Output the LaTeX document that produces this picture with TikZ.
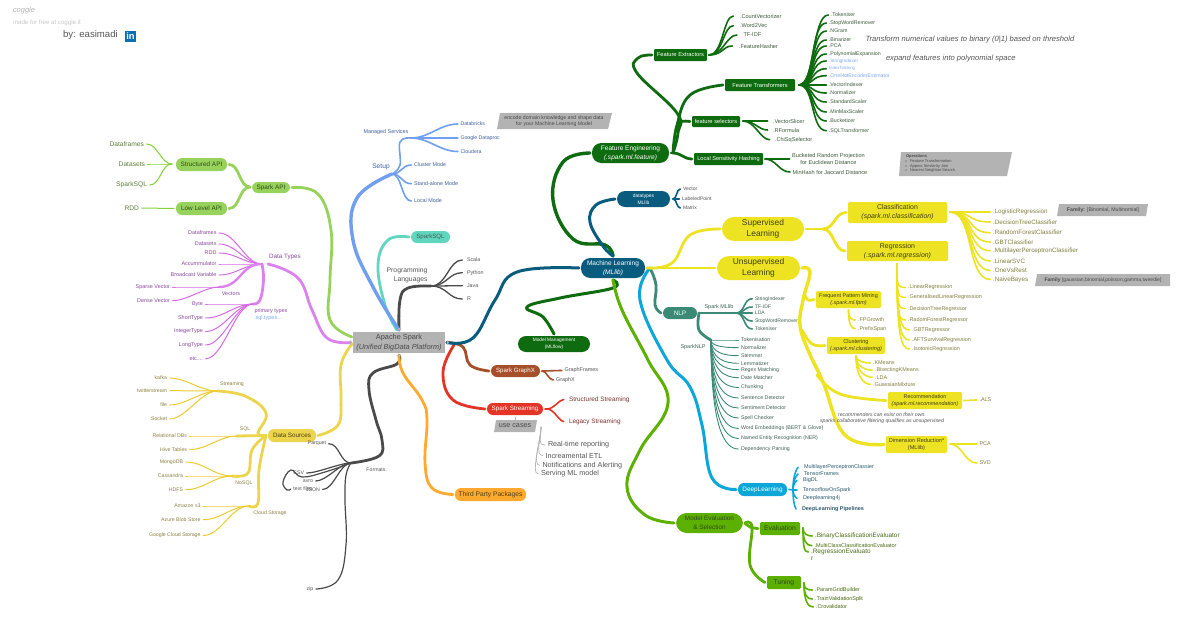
\documentclass[tikz,border=0pt]{standalone}
\usepackage{fontspec}
\setmainfont{Liberation Sans}
\pgfdeclarelayer{bg}\pgfsetlayers{bg,main}
\definecolor{gnB}{HTML}{97D35C}\definecolor{gnL}{HTML}{82D235}\definecolor{gnT}{HTML}{5F7F3D}\definecolor{gnD}{HTML}{2F4A1B}
\definecolor{mgB}{HTML}{DC82EC}\definecolor{mgL}{HTML}{D66AE8}\definecolor{mgT}{HTML}{8B4A9E}
\definecolor{ylB}{HTML}{ECD44C}\definecolor{ylL}{HTML}{EECB2C}\definecolor{ylT}{HTML}{8D8143}\definecolor{ylD}{HTML}{4B4016}
\definecolor{dk}{HTML}{4A4A4A}\definecolor{dkT}{HTML}{555555}
\definecolor{stB}{HTML}{6F9FEE}\definecolor{stT}{HTML}{3F5F9F}
\definecolor{sq}{HTML}{60D6BF}\definecolor{gy}{HTML}{B3B3B3}
\definecolor{or}{HTML}{FFA92E}\definecolor{rd}{HTML}{E33425}\definecolor{rdT}{HTML}{7A3030}\definecolor{br}{HTML}{A5502A}
\definecolor{ml}{HTML}{0A5C7F}\definecolor{fe}{HTML}{0F6B0F}\definecolor{feT}{HTML}{3A5A3A}
\definecolor{me}{HTML}{5CB000}\definecolor{meT}{HTML}{4A6A10}\definecolor{dl}{HTML}{0CA6D8}\definecolor{dlT}{HTML}{2A5A70}
\definecolor{nl}{HTML}{3B8A75}\definecolor{nlT}{HTML}{3F5F55}
\definecolor{su}{HTML}{EDE322}\definecolor{suT}{HTML}{7F7F3F}\definecolor{suD}{HTML}{3F3F10}
\definecolor{lb}{HTML}{7FA8F0}\definecolor{li}{HTML}{0A70B0}
\tikzset{
 fs/.style={font=\fontsize{#1}{#1}\selectfont},
 tx/.style={inner sep=0.4pt,outer sep=1.6pt,align=center},
 bxs/.style={inner sep=0pt,outer sep=1.5pt,align=center},
 ln/.style={line cap=round,line join=round,line width=#1*0.75pt},
 lt/.style={ln=1},
 lm/.style={ln=1.6},
 lw/.style={ln=2.8},
 lh/.style={ln=3.4},
 tow/.style={anchor=west,xshift=-2pt},
 toe/.style={anchor=east,xshift=2pt},
}
\newcommand\hc[4][]{\begin{pgfonlayer}{bg}\draw[#1] (#2) .. controls +(#4,0) and +(-#4,0) .. (#3);\end{pgfonlayer}}
\newcommand\vh[5][]{\begin{pgfonlayer}{bg}\draw[#1] (#2) .. controls +(0,#4) and +(-#5,0) .. (#3);\end{pgfonlayer}}
\newcommand\sm[2][]{\begin{pgfonlayer}{bg}\draw[#1] plot[smooth,tension=.7] coordinates {#2};\end{pgfonlayer}}
\newcommand\bx[7]{\node[bxs,#1,minimum width={(#5-(#3))*0.75pt},minimum height={(#6-(#4))*0.75pt}] (#2) at ({(#3+#5)/2},{(#4+#6)/2}) {#7};}
\newcommand\leafR[5]{\foreach \nm/\xx/\yy/\lab in {#5}{\node[tx,#1,tow] (\nm) at (\xx,\yy) {\lab};\hc[#2]{#3}{\nm.west}{#4}}}
\newcommand\leafL[5]{\foreach \nm/\xx/\yy/\lab in {#5}{\node[tx,#1,toe] (\nm) at (\xx,\yy) {\lab};\hc[#2]{\nm.east}{#3}{#4}}}
\newcommand\leafV[6]{\foreach \nm/\xx/\yy/\lab in {#6}{\pgfmathsetmacro\dyy{(\yy-#4)*.8}\node[tx,#1,tow] (\nm) at (\xx,\yy) {\lab};\vh[#2]{#3}{\nm.west}{\dyy}{#5}}}
\begin{document}
\begin{tikzpicture}[x=0.75pt,y=-0.75pt]
\useasboundingbox (0,0) rectangle (1200,625);
% header
\node[tx,tow,text=gy,font=\itshape\fontsize{5.6}{6}\selectfont] (cg) at (13,11) {coggle};
\node[tx,tow,text=black!22,fs=4.6] (made) at (13,22.5) {made for free at coggle.it};
\node[tx,tow,text=dkT,fs=7.2] (by) at (63,35) {by: easimadi};
\node[bxs,fill=li,text=white,minimum width=8pt,minimum height=8pt,font=\bfseries\fontsize{7}{7}\selectfont] (lkd) at (130.5,36.5) {in};
% center
\bx{fill=gy,text=dk,fs=5.5}{apache}{353}{332}{445}{353}{Apache Spark\\[1.6pt]{\itshape(Unified BigData Platform)}}
\fill[gy] ([xshift=-2pt]apache.north) -- ([yshift=1.5pt]apache.north) -- ([xshift=2pt]apache.north) -- cycle;
\fill[gy] ([xshift=-2pt]apache.south) -- ([yshift=-1.5pt]apache.south) -- ([xshift=2pt]apache.south) -- cycle;
\fill[gy] ([yshift=-2pt]apache.west) -- ([xshift=-1.5pt]apache.west) -- ([yshift=2pt]apache.west) -- cycle;
\fill[gy] ([yshift=-2pt]apache.east) -- ([xshift=1.5pt]apache.east) -- ([yshift=2pt]apache.east) -- cycle;
% Spark API
\bx{fill=gnB,text=gnD,rounded corners=4.5pt,fs=4.8}{sapi}{252}{182}{290}{193}{Spark API}
\bx{fill=gnB,text=gnD,rounded corners=4.5pt,fs=4.8}{stru}{176}{158}{227}{171}{Structured API}
\bx{fill=gnB,text=gnD,rounded corners=4.5pt,fs=4.8}{lowl}{176}{202}{227}{215}{Low Level API}
\coordinate (hStru) at (172,164);
\leafL{fs=5,text=gnT}{lt,gnL}{hStru}{11}{gdf/144/144/Dataframes,gds/145/164/Datasets,gsq/147/185/SparkSQL}
\leafL{fs=5,text=gnT}{lt,gnL}{lowl.west}{5}{grd/139/208/RDD}
\coordinate (hApi) at (250,187);
\hc[lw,gnB]{stru.east}{hApi}{11}
\hc[lw,gnB]{lowl.east}{hApi}{11}
\begin{pgfonlayer}{bg}\draw[lw,gnB] (hApi) -- (sapi.west);\end{pgfonlayer}
\sm[lw,gnB]{(sapi.east) (318,194) (331,230) (330,280) (330,320) (352,337)}
% Data types
\node[tx,fs=4.7,text=mgT] (dt) at (285,257) {Data Types};
\coordinate (hDT) at (262,264);
\sm[lw,mgB]{(apache.west) (327,338) (312,310) (298,278) (268,264)}
\leafL{fs=4.1,text=mgT}{lt,mgL}{hDT}{17}{tdf/216.5/233/Dataframes,tds/216.5/244/Datasets,trd/216.5/253/RDD,tac/216.5/264/Accummulator,tbv/216.5/275/Broadcast Variable}
\node[tx,fs=4.1,text=mgT] (vec) at (231,294) {Vectors};
\node[tx,fs=4.1,text=mgT] (pri) at (271,311) {primary types};
\node[tx,fs=4.1,text=lb] (sqlt) at (268,318) {.sql.types...};
\coordinate (hVec) at (219,287);\coordinate (hPri) at (253,304);
\hc[ln=2.4,mgB]{hVec}{hDT}{22}
\sm[lw,mgB]{(hDT) (263.5,280) (260,300) (hPri)}
\leafL{fs=4.1,text=mgT}{lt,mgL}{hVec}{14}{tsv/170/287/Sparse Vector,tdv/170/300.7/Dense Vector}
\leafL{fs=4.1,text=mgT}{lt,mgL}{hPri}{18}{tby/203/304/Byte,tsh/203/318/ShortType,tin/203/331.5/IntegerType,tlo/203/345/LongType,tet/203/358.7/{etc....}}
% Data sources
\bx{fill=ylB,text=ylD,rounded corners=4.5pt,fs=4.7}{dsrc}{268}{429}{316}{442}{Data Sources}
\sm[lw,ylB]{(352,344) (341,365) (341,400) (338,425) (dsrc.east)}
\coordinate (hStr) at (217,391);\coordinate (hSql) at (237,436);\coordinate (hNo) at (232,476);\coordinate (hCl) at (249,506);
\sm[lw,ylB]{(hStr) (245,396) (266,413) (258,433) (dsrc.west)}
\begin{pgfonlayer}{bg}\draw[lw,ylB] (hSql) -- (dsrc.west);\end{pgfonlayer}
\sm[lw,ylB]{(hNo) (248,473) (252,450) (dsrc.west)}
\sm[lw,ylB]{(hCl) (258,503) (259,470) (dsrc.west)}
\leafL{fs=3.9,text=ylT}{lt,ylL}{hStr}{16}{ykf/167/378/kafka,ytw/167/390.7/twitterstream,yfi/167/405/file,yso/167/419/Socket}
\leafL{fs=3.9,text=ylT}{lt,ylL}{hSql}{18}{yrd/187/436/Relational DBs,yhv/187/449.5/Hive Tables}
\leafL{fs=3.9,text=ylT}{lt,ylL}{hNo}{18}{ymg/183/462/MongoDB,yca/183/476/Cassandra,yhd/183/489.7/HDFS}
\leafL{fs=3.9,text=ylT}{lt,ylL}{hCl}{18}{yam/200.5/506/Amazon s3,yaz/200.5/519.7/Azure Blob Store,ygc/200.5/535.5/Google Cloud Storage}
\node[tx,fs=3.9,text=ylT] (lStr) at (232,384.5) {Streaming};
\node[tx,fs=3.9,text=ylT] (lSql) at (245,429) {SQL};
\node[tx,fs=3.9,text=ylT] (lNo) at (244,483) {NoSQL};
\node[tx,fs=3.9,text=ylT] (lCl) at (270,513) {Cloud Storage};
% Formats
\node[tx,fs=3.9,text=dkT] (fmt) at (376,470) {Formats};
\coordinate (hFm) at (351,463);
\sm[lw,dk]{(apache.south) (397,364) (373,373) (369,390) (376,420) (382,440) (379,456) (hFm)}
\leafL{fs=3.9,text=dkT}{ln=1.2,dk}{hFm}{11}{fpq/326/443.7/Parquet,fcs/304/473/CSV,fav/313/481/avro,fjs/320/489.5/JSON}
\node[tx,fs=3.9,text=dkT] (ftx) at (303,489) {text files};
\sm[ln=1.2,dk]{(ftx.west) (287,490) (283,482) (291,470) (302,477) (325,472) (hFm)}
\node[tx,fs=3.9,text=dkT] (fzp) at (310,589) {zip};
\sm[ln=1.2,dk]{(fzp.east) (338,580) (346,545) (345,500) (346,475) (hFm)}
% Third party
\bx{fill=or,text=ylD,rounded corners=4.5pt,fs=5}{tpp}{455}{488}{526}{501}{Third Party Packages}
\sm[lw,or]{(apache.south) (403,373) (422,400) (427,420) (425,463) (432,488) (tpp.west)}
% Spark Streaming
\bx{fill=rd,text=white,rounded corners=4.5pt,fs=4.7}{ss}{487}{403}{543}{415}{Spark Streaming}
\sm[lw,rd]{(454,345) (443,372) (453,400) (ss.west)}
\coordinate (hSs) at (547,409);
\leafR{fs=4.8,text=rdT}{lm,rd,shorten >=2pt}{hSs}{7}{rst/569/399.5/Structured Streaming,rle/569/421.5/Legacy Streaming}
\begin{pgfonlayer}{bg}\draw[lm,rd] (ss.east) -- (hSs);\end{pgfonlayer}
\fill[gy] (496,420) -- (537,420) -- (535,432) -- (494,432) -- cycle;
\node[tx,fs=5.4,text=dk] (uc) at (515,426) {use cases};
\begin{pgfonlayer}{bg}\draw[ln=.8,gy] (ss.south) -- (uc.north);\end{pgfonlayer}
\coordinate (hUc) at (541,427);
\foreach \nm/\xx/\yy/\lab in {ua/548/445/Real-time reporting,ub/545.5/455.5/Increamental ETL,uc2/542.5/465.5/Notifications and Alerting,ud/541/474/Serving ML model}{
 \node[tx,fs=5.4,text=dkT,tow] (\nm) at (\xx,\yy) {\lab};
 \vh[ln=.7,gy]{hUc}{\nm.west}{12}{8}}
% GraphX
\bx{fill=br,text=white,rounded corners=4.5pt,fs=4.6}{gx}{491}{365}{540}{377}{Spark GraphX}
\sm[lw,br]{(apache.east) (463,347) (470,365) (gx.west)}
\leafR{fs=4.1,text=dkT}{lm,br}{gx.east}{5}{gfr/564.5/370.5/GraphFrames,gxx/556/380/GraphX}
% Programming
\node[tx,fs=5.1,text=dkT,align=right,toe] (plang) at (427.5,275) {Programming\\[2pt]Languages};
\coordinate (hPl) at (431,286);
\sm[lw,dk]{(apache.north) (400,300) (408,288) (hPl)}
\leafR{fs=4,text=dkT}{ln=1.3,dk,shorten >=1.5pt}{hPl}{16}{psc/467/260/Scala,ppy/467/272.7/Python,pja/467/285.7/Java,prr/467/299/R}
% SparkSQL
\bx{fill=sq,text=nlT,rounded corners=4.5pt,fs=4.6}{ssq}{411}{231}{450}{243}{SparkSQL}
\sm[lw,sq]{(397,330) (385,305) (378,265) (388,240) (ssq.west)}
% Setup
\node[tx,fs=5,text=stT] (setup) at (381,167) {Setup};
\coordinate (hSe) at (392,174);\coordinate (hMs) at (411,138);
\sm[lh,stB]{(apache.north) (373,287) (353,240) (357,198) (hSe)}
\sm[lm,stB]{(hSe) (400,165) (400,142) (hMs)}
\leafR{fs=4.05,text=stT}{lm,stB}{hSe}{10}{scl/414/165/Cluster Mode,ssa/414/183.7/Stand-alone Mode,slo/414/201/Local Mode}
\leafR{fs=3.9,text=stT}{lm,stB}{hMs}{18}{sdb/460.5/124/Databricks,sgd/460.5/138/Google Dataproc,scd/460.5/151.5/Cloudera}
\node[tx,fs=4.05,text=stT] (ms) at (386,132) {Managed Services};
\fill[gy] (500,113) -- (612,113) -- (608,129) -- (497,129) -- cycle;
\node[tx,fs=3.9,text=dk] (nt1) at (554,121) {encode domain knowledge and shape data\\[.8pt]for your Machine Learning Model};
% Machine learning
\bx{fill=ml,text=white,rounded corners=7pt,fs=4.9}{mlb}{581}{258}{645}{278}{Machine Learning\\[1.8pt]{\itshape(MLlib)}}
\sm[ln=3,ml]{(apache.east) (473,338) (495,300) (517,272) (mlb.west)}
% Feature engineering
\bx{fill=fe,text=white,rounded corners=7pt,fs=4.9}{feb}{592}{143}{669}{163}{Feature Engineering\\[1.8pt]{\itshape(.spark.ml.feature)}}
\sm[lh,fe]{(mlb.north) (605,245) (573,239) (553,200) (563,162) (feb.west)}
\bx{fill=ml,text=white,rounded corners=6pt,fs=3.7}{dtb}{617}{191}{670}{207}{datatypes\\[1.4pt]MLlib}
\sm[ln=3,ml]{(mlb.north) (603,246) (590,222) (596,205) (dtb.west)}
\coordinate (hDtb) at (673,199);
\leafR{fs=3.8,text=dkT}{lm,ml}{hDtb}{4}{dvv/683/189/Vector,dlp/682/199/LabeledPoint,dmm/683/208/Matrix}
% model management
\bx{fill=fe,text=white,rounded corners=6pt,fs=3.6}{mm}{518}{336}{590}{352}{Model Management\\[1.4pt](MLflow)}
\coordinate (kmm) at (613,288);
\sm[ln=3,fe]{(mlb.south) (kmm) (560,298) (527,307) (543,317) (mm.north)}
% model evaluation
\bx{fill=me,text=gnD,rounded corners=8pt,fs=4.8}{mev}{676}{513}{743}{533}{Model Evaluation\\[1.8pt]\&\ Selection}
\sm[ln=3,me]{(mlb.south) (622,310) (648,360) (668,403) (640,450) (627,487) (645,515) (mev.west)}
\bx{fill=me,text=gnD,rounded corners=1pt,fs=5.1}{evb}{760}{522}{800}{535}{Evaluation}
\bx{fill=me,text=gnD,rounded corners=1pt,fs=5.1}{tun}{767}{576}{801}{589}{Tuning}
\sm[lw,me]{(mev.east) (752,527) (750,565) (tun.west)}
\sm[lw,me]{(mev.east) (750,527) (evb.west)}
\coordinate (hEv) at (803,528);\coordinate (hTu) at (804,583);
\node[tx,fs=4.8,text=meT,tow] (ev1) at (815,536) {.BinaryClassificationEvaluator};
\node[tx,fs=4.1,text=meT,tow] (ev2) at (814.5,545.7) {.MultiClassClassificationEvaluator};
\node[tx,fs=4.85,text=meT,tow] (ev3) at (811,552) {.RegressionEvaluato};
\node[tx,fs=4.85,text=meT,tow] (ev4) at (811,559) {r};
\vh[lm,me]{hEv}{ev1.west}{6}{5}
\vh[lm,me]{hEv}{ev2.west}{12}{6}
\vh[lm,me]{hEv}{ev3.west}{20}{4}
\leafV{fs=4.1,text=meT}{lm,me}{hTu}{583}{5}{tp1/815/590/.ParamGridBuilder,tp2/815/599/.TrainValidationSplit,tp3/816/607/.Crovalidator}
% DeepLearning
\bx{fill=dl,text=white,rounded corners=4.5pt,fs=4.8}{dlb}{738}{483}{787}{496}{DeepLearning}
\sm[ln=3,dl]{(650,268) (640,300) (667,360) (690,387) (702,425) (712,478) (dlb.west)}
\coordinate (hDl) at (793,490);
\leafV{fs=4.1,text=dlT}{lm,dl,shorten >=2.5pt}{hDl}{490}{3}{dl1/804/467.3/MultilayerPerceptronClassier,dl2/804/474/TensorFrames,dl3/803/480.3/BigDL,dl4/803/490/TensorflowOnSpark,dl5/803/498.3/Deeplearning4j}
\begin{pgfonlayer}{bg}\draw[lm,dl] (dlb.east) -- (hDl);\end{pgfonlayer}
\node[tx,text=dlT,font=\bfseries\fontsize{4.1}{4.1}\selectfont,tow] (dl6) at (802,509) {DeepLearning Pipelines};
\vh[lm,dl,shorten >=2.5pt]{hDl}{dl6.west}{16}{3}
% NLP
\bx{fill=nl,text=white,rounded corners=4.5pt,fs=4.8}{nlp}{663}{307}{697}{319}{NLP}
\sm[lw,nl]{(650,268) (656,285) (655,305) (nlp.west)}
\coordinate (hSm) at (736,313);\coordinate (hSn) at (711,340);
\begin{pgfonlayer}{bg}\draw[lw,nl] (nlp.east) -- (hSm);\end{pgfonlayer}
\sm[lw,nl]{(nlp.east) (699,330) (hSn)}
\node[tx,fs=4.1,text=nlT] (smb) at (719,307) {Spark MLlib};
\node[tx,fs=4.1,text=nlT] (snb) at (693,347) {SparkNLP};
\leafR{fs=3.8,text=nlT}{lm,nl}{hSm}{9}{nm1/755/298.7/StringIndexer,nm2/755/307/TF-IDF,nm3/755/313/LDA,nm4/755/321/StopWordRemover,nm5/755/329/Tokeniser}
\leafV{fs=3.95,text=nlT}{ln=.9,nl}{hSn}{340}{14}{nn1/741/340/Tokenisation,nn2/741/347.7/Normalizer,nn3/741/355.7/Stemmer,nn4/741/363.3/Lemmatizer,nn5/741/369.7/Regex Matching,nn6/741/377.7/Date Matcher,nn7/741/387.5/Chunking,nn8/741/398/Sentence Detector,nn9/741/408/Sentiment Detector,nn10/741/418/Spell Checker,nn11/741/428.5/{Word Embeddings (BERT \& Glove)},nn12/741/438.5/Named Entity Recognition (NER),nn13/741/449/Dependency Parsing}
% Feature engineering branches
\bx{fill=fe,text=white,rounded corners=.8pt,fs=4.3}{fex}{654}{49}{707}{61}{Feature Extractors}
\bx{fill=fe,text=white,rounded corners=.8pt,fs=4.3}{ftr}{725}{79}{795}{91}{Feature Transformers}
\bx{fill=fe,text=white,rounded corners=.8pt,fs=4.3}{fsl}{692}{116}{740}{127}{feature selectors}
\bx{fill=fe,text=white,rounded corners=.8pt,fs=4.2}{lsh}{694}{153}{763}{165}{Local Sensitivity Hashing}
\coordinate (hFe) at (673,153);
\begin{pgfonlayer}{bg}\draw[lw,fe] (feb.east) -- (hFe);\end{pgfonlayer}
\sm[lw,fe]{(hFe) (678,133) (677,113) (637,73) (638,58) (fex.west)}
\sm[lw,fe]{(hFe) (677,125) (690,95) (ftr.west)}
\sm[lw,fe]{(677,130) (680,122) (fsl.west)}
\hc[lw,fe]{hFe}{lsh.west}{8}
\coordinate (hFx) at (709,55);\coordinate (hFt) at (799,85);\coordinate (hFs) at (743,121);
\leafR{fs=4.2,text=feT}{lm,fe,shorten >=3pt}{hFx}{14}{x1/740/16/.CountVectorizer,x2/740/25.7/.Word2Vec,x3/743.5/35/TF-IDF,x4/739/46/.FeatureHasher}
\leafR{fs=3.95,text=feT}{lm,fe}{hFt}{16}{t1/831/15/.Tokeniser,t2/829/23/.StopWordRemover,t3/829/31/.NGram,t4/829/40/.Binarizer,t5/829/46/.PCA,t6/829/54/.PolynomialExpansion,t10/829/85/.VectorIndexer,t11/829/93/.Normalizer,t12/829/102/.StandardScaler,t13/829/112/.MinMaxScaler,t14/829/121/.Bucketizer,t15/829/130.7/.SQLTransformer}
\leafR{fs=3.5,text=lb}{lm,fe}{hFt}{16}{t7/829/61/.StringIndexer}
\leafR{fs=3.2,text=lb}{lm,fe}{hFt}{16}{t8/829/68.7/IndexToString}
\leafR{fs=3.9,text=lb}{lm,fe}{hFt}{16}{t9/829/75.7/.OneHotEncoderEstimator}
\leafR{fs=4.2,text=feT}{lm,fe,shorten >=2pt}{hFs}{12}{s1/773/121/.VectorSlicer,s2/773/130/.RFormula,s3/775/139.7/.ChiSqSelector}
\node[tx,fs=4.2,text=feT] (l1) at (828.5,159) {Bucketed Random Projection\\[1.2pt]for Euclidean Distance};
\node[tx,fs=4.2,text=feT] (l2) at (830,172) {MinHash for Jaccard Distance};
\begin{pgfonlayer}{bg}\draw[lm,fe] (lsh.east) -- (l1.west |- lsh.east);\end{pgfonlayer}
\hc[lm,fe]{lsh.east}{l2.west}{11}
\node[tx,text=dkT,tow,font=\itshape\fontsize{5.7}{5.7}\selectfont] (n1) at (865.5,40) {Transform numerical values to binary (0|1) based on threshold};
\node[tx,text=dkT,tow,font=\itshape\fontsize{5.7}{5.7}\selectfont] (n2) at (886,58.7) {expand features into polynomial space};
\fill[gy] (901,152) -- (1012,152) -- (1007,176) -- (899,176) -- cycle;
\node[tx,text=dk,tow,font=\bfseries\fontsize{3}{3}\selectfont] (op0) at (906,156) {Operations};
\foreach \nm/\yy/\lab in {op1/161/Feature Transformation,op2/166/Approx Similarity Join,op3/170/Nearest Neighbor Search}{
 \node[tx,text=dk,tow,fs=3] (\nm) at (910,\yy) {\lab};
 \fill[dk] (906,\yy) circle[radius=.6];}
% Supervised
\bx{fill=su,text=suD,rounded corners=9pt,fs=6.3}{sup}{722}{217}{804}{241}{Supervised\\[2.4pt]Learning}
\bx{fill=su,text=suD,rounded corners=9pt,fs=6.3}{uns}{717}{256}{800}{280}{Unsupervised\\[2.4pt]Learning}
\begin{pgfonlayer}{bg}\draw[lw,su] (mlb.east) -- (uns.west);\end{pgfonlayer}
\sm[lw,su]{(mlb.east) (672,263) (690,235) (sup.west)}
\bx{fill=su,text=suD,rounded corners=1pt,fs=5.2}{cla}{848}{202}{947}{223}{Classification\\[1.8pt]{\itshape(spark.ml.classification)}}
\bx{fill=su,text=suD,rounded corners=1pt,fs=5.2}{reg}{847}{241}{948}{261}{Regression\\[1.8pt]{\itshape(.spark.ml.regression)}}
\coordinate (hSu) at (823,229);
\begin{pgfonlayer}{bg}\draw[lw,su] (sup.east) -- (hSu);\end{pgfonlayer}
\hc[lw,su]{hSu}{cla.west}{11}
\hc[lw,su]{hSu}{reg.west}{11}
\coordinate (hCl2) at (950,212);
\leafR{fs=4.7,text=suT}{lm,su}{hCl2}{24}{c1/993/212/.LogisticRegression,c2/993/222/.DecisionTreeClassifier,c3/993/232.7/.RandomForestClassifier,c4/993/242/.GBTClassifier,c5/993/250.7/.MultilayerPerceptronClassifier,c6/993/261/.LinearSVC,c7/993/270.5/.OneVsRest,c8/993/279.5/.NaiveBayes}
\fill[gy] (1059,204) -- (1148,204) -- (1146,216) -- (1057,216) -- cycle;
\node[tx,fs=3.9,text=dk] (fa1) at (1103,210) {\textbf{Family:} [Binomial, Multinomial]};
\fill[gy] (1037,274) -- (1170,274) -- (1170,286) -- (1035,286) -- cycle;
\node[tx,fs=3.8,text=dk] (fa2) at (1103,280) {\textbf{Family} [gaussian,binomial,poisson,gamma,tweedie]};
\coordinate (hRg) at (897,264);
\leafV{fs=4.1,text=suT}{lm,su}{hRg}{264}{9}{r1/908/287.5/.LinearRegression,r2/908/297.5/.GeneralisedLinearRegression,r3/908/308.7/.DecisionTreeRegressor,r4/908/320/.RadomForestRegressor,r5/912/330/.GBTRegressor,r6/912/340/.AFTSurvivalRegression,r7/912/349/.IsotonicRegression}
% Unsupervised boxes
\bx{fill=su,text=suD,rounded corners=1pt,fs=4.1}{fpm}{816}{291}{881}{308}{Frequent Pattern Mining\\[1.4pt]{\itshape(.spark.ml.fpm)}}
\bx{fill=su,text=suD,rounded corners=1pt,fs=4.2}{clu}{827}{337}{885}{354}{Clustering\\[1.4pt]{\itshape(.spark.ml.clustering)}}
\bx{fill=su,text=suD,rounded corners=1pt,fs=4.1}{rec}{888}{392}{962}{409}{Recommendation\\[1.4pt]{\itshape(spark.ml.recommendation)}}
\bx{fill=su,text=suD,rounded corners=1pt,fs=4.2}{dim}{886}{436}{947}{453}{Dimension Reduction*\\[1.4pt](MLlib)}
\sm[lh,su]{(uns.east) (810,272) (803,300) (800,325) (808,350) (823,382) (845,435) (dim.west)}
\sm[lw,su]{(805,295) (808,300) (fpm.west)}
\sm[lw,su]{(802,330) (812,344) (clu.west)}
\sm[lw,su]{(817,375) (840,394) (rec.west)}
\leafV{fs=4.1,text=suT}{lm,su}{fpm.south}{310}{4}{p1/858/320/.FPGrowth,p2/858/328.7/.PrefixSpan}
\leafV{fs=4.1,text=suT}{lm,su}{clu.south}{356}{5}{k1/873/363/.KMeans,k2/875/370.3/.BisectingKMeans,k3/875/377.3/.LDA,k4/873/384.3/.GuassianMixture}
\leafR{fs=4.1,text=suT}{lm,su}{rec.east}{5}{als/979.5/400/.ALS}
\coordinate (hDm) at (950,444);
\leafR{fs=4.1,text=suT}{lm,su}{hDm}{12}{pca/979.5/444/PCA,svd/979.5/463/SVD}
\node[tx,text=dkT,font=\itshape\fontsize{3.9}{3.9}\selectfont] (rc1) at (882,414.7) {recommenders can exist on their own.};
\node[tx,text=dkT,font=\itshape\fontsize{3.9}{3.9}\selectfont] (rc2) at (882,421) {sparks collaborative filtering qualifies as unsupervised};
\end{tikzpicture}
\end{document}
